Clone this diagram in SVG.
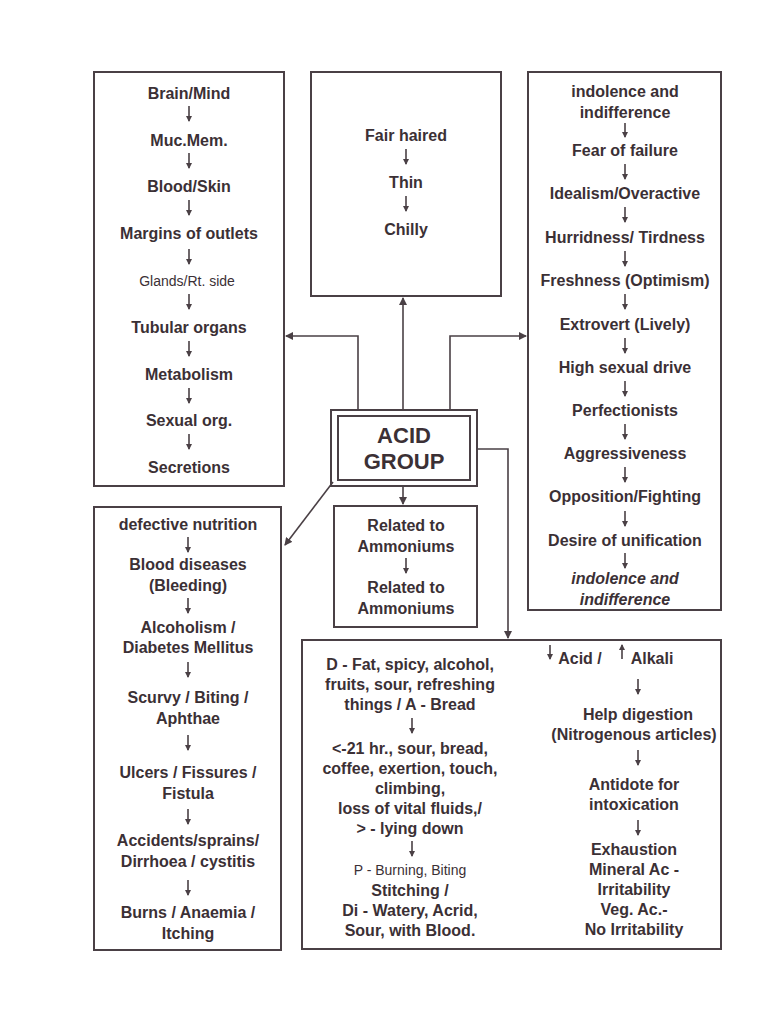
<svg xmlns="http://www.w3.org/2000/svg" width="768" height="1024" viewBox="0 0 768 1024">
<style>
text{font-family:"Liberation Sans",Arial,sans-serif;font-weight:bold;font-size:16px;fill:#3b3035;text-anchor:middle}
.n{font-weight:normal;font-size:14px}
.i{font-style:italic}
.big{font-size:22px}
.b{fill:none;stroke:#4a4045;stroke-width:2}
.c line,.c path,.a line{stroke:#4a4045;stroke-width:1.6;fill:none}
</style>
<defs>
<marker id="m" markerWidth="8" markerHeight="8" refX="7" refY="4" orient="auto" markerUnits="userSpaceOnUse"><path d="M0,0 L8,4 L0,8 z" fill="#4a4045"/></marker>
<marker id="s" markerWidth="6" markerHeight="6" refX="5" refY="3" orient="auto" markerUnits="userSpaceOnUse"><path d="M0,0 L6,3 L0,6 z" fill="#4a4045"/></marker>
</defs>
<rect width="768" height="1024" fill="#fff"/>
<g id="body-box">
<rect class="b" x="94" y="72" width="190" height="414"/>
<text x="189" y="99">Brain/Mind</text><text x="189" y="146">Muc.Mem.</text><text x="189" y="192">Blood/Skin</text><text x="189" y="239">Margins of outlets</text><text x="187" y="286" class="n">Glands/Rt. side</text><text x="189" y="333">Tubular organs</text><text x="189" y="380">Metabolism</text><text x="189" y="426">Sexual org.</text><text x="189" y="473">Secretions</text>
<g class="a"><line x1="189" y1="106" x2="189" y2="121" marker-end="url(#s)"/><line x1="189" y1="153" x2="189" y2="168" marker-end="url(#s)"/><line x1="189" y1="200" x2="189" y2="215" marker-end="url(#s)"/><line x1="189" y1="249" x2="189" y2="264" marker-end="url(#s)"/><line x1="189" y1="294" x2="189" y2="309" marker-end="url(#s)"/><line x1="189" y1="341" x2="189" y2="356" marker-end="url(#s)"/><line x1="189" y1="388" x2="189" y2="403" marker-end="url(#s)"/><line x1="189" y1="434" x2="189" y2="449" marker-end="url(#s)"/></g>
</g>
<g id="appearance-box">
<rect class="b" x="311" y="72" width="190" height="224"/>
<text x="406" y="141">Fair haired</text><text x="406" y="188">Thin</text><text x="406" y="235">Chilly</text>
<g class="a"><line x1="406" y1="149" x2="406" y2="164" marker-end="url(#s)"/><line x1="406" y1="196" x2="406" y2="211" marker-end="url(#s)"/></g>
</g>
<g id="mind-box">
<rect class="b" x="528" y="72" width="193" height="538"/>
<text x="625" y="97">indolence and</text><text x="625" y="118">indifference</text><text x="625" y="156">Fear of failure</text><text x="625" y="199">Idealism/Overactive</text><text x="625" y="243">Hurridness/ Tirdness</text><text x="625" y="286">Freshness (Optimism)</text><text x="625" y="330">Extrovert (Lively)</text><text x="625" y="373">High sexual drive</text><text x="625" y="416">Perfectionists</text><text x="625" y="459">Aggressiveness</text><text x="625" y="502">Opposition/Fighting</text><text x="625" y="546">Desire of unification</text><text x="625" y="584" class="i">indolence and</text><text x="625" y="605" class="i">indifference</text>
<g class="a"><line x1="625" y1="123" x2="625" y2="137" marker-end="url(#s)"/><line x1="625" y1="164" x2="625" y2="179" marker-end="url(#s)"/><line x1="625" y1="207" x2="625" y2="222" marker-end="url(#s)"/><line x1="625" y1="251" x2="625" y2="266" marker-end="url(#s)"/><line x1="625" y1="294" x2="625" y2="309" marker-end="url(#s)"/><line x1="625" y1="338" x2="625" y2="353" marker-end="url(#s)"/><line x1="625" y1="381" x2="625" y2="396" marker-end="url(#s)"/><line x1="625" y1="424" x2="625" y2="439" marker-end="url(#s)"/><line x1="625" y1="467" x2="625" y2="482" marker-end="url(#s)"/><line x1="625" y1="511" x2="625" y2="526" marker-end="url(#s)"/><line x1="625" y1="553" x2="625" y2="568" marker-end="url(#s)"/></g>
</g>
<g id="acid-group">
<rect class="b" x="331" y="410" width="146" height="76"/>
<rect class="b" x="338" y="416" width="132" height="64"/>
<text x="404" y="443" class="big">ACID</text><text x="404" y="469" class="big">GROUP</text>
</g>
<g id="ammonium-box">
<rect class="b" x="334" y="506" width="143" height="121"/>
<text x="406" y="531">Related to</text><text x="406" y="552">Ammoniums</text><text x="406" y="593">Related to</text><text x="406" y="614">Ammoniums</text>
<g class="a"><line x1="406" y1="558" x2="406" y2="573" marker-end="url(#s)"/></g>
</g>
<g id="disease-box">
<rect class="b" x="94" y="507" width="187" height="443"/>
<text x="188" y="530">defective nutrition</text><text x="188" y="570">Blood diseases</text><text x="188" y="591">(Bleeding)</text><text x="188" y="633">Alcoholism /</text><text x="188" y="653">Diabetes Mellitus</text><text x="188" y="703">Scurvy / Biting /</text><text x="188" y="724">Aphthae</text><text x="188" y="778">Ulcers / Fissures /</text><text x="188" y="799">Fistula</text><text x="188" y="846">Accidents/sprains/</text><text x="188" y="867">Dirrhoea / cystitis</text><text x="188" y="918">Burns / Anaemia /</text><text x="188" y="939">Itching</text>
<g class="a"><line x1="188" y1="537" x2="188" y2="552" marker-end="url(#s)"/><line x1="188" y1="598" x2="188" y2="613" marker-end="url(#s)"/><line x1="188" y1="662" x2="188" y2="677" marker-end="url(#s)"/><line x1="188" y1="735" x2="188" y2="750" marker-end="url(#s)"/><line x1="188" y1="809" x2="188" y2="824" marker-end="url(#s)"/><line x1="188" y1="880" x2="188" y2="895" marker-end="url(#s)"/></g>
</g>
<g id="modality-box">
<rect class="b" x="302" y="640" width="419" height="309"/>
<text x="410" y="670">D - Fat, spicy, alcohol,</text><text x="410" y="690">fruits, sour, refreshing</text><text x="410" y="710">things / A - Bread</text><text x="410" y="754">&lt;-21 hr., sour, bread,</text><text x="410" y="774">coffee, exertion, touch,</text><text x="410" y="794">climbing,</text><text x="410" y="814">loss of vital fluids,/</text><text x="410" y="834">&gt; - lying down</text><text x="410" y="875" class="n">P - Burning, Biting</text><text x="410" y="896">Stitching /</text><text x="410" y="916">Di - Watery, Acrid,</text><text x="410" y="936">Sour, with Blood.</text>
<text x="580" y="664">Acid /</text><text x="652" y="664">Alkali</text><text x="638" y="720">Help digestion</text><text x="634" y="740">(Nitrogenous articles)</text><text x="634" y="790">Antidote for</text><text x="634" y="810">intoxication</text><text x="634" y="855">Exhaustion</text><text x="634" y="875">Mineral Ac -</text><text x="634" y="895">Irritability</text><text x="634" y="915">Veg. Ac.-</text><text x="634" y="935">No Irritability</text>
<g class="a"><line x1="412" y1="718" x2="412" y2="733" marker-end="url(#s)"/><line x1="412" y1="841" x2="412" y2="856" marker-end="url(#s)"/><line x1="550" y1="645" x2="550" y2="659" marker-end="url(#s)"/><line x1="622" y1="659" x2="622" y2="645" marker-end="url(#s)"/><line x1="638" y1="679" x2="638" y2="694" marker-end="url(#s)"/><line x1="638" y1="750" x2="638" y2="765" marker-end="url(#s)"/><line x1="638" y1="820" x2="638" y2="835" marker-end="url(#s)"/></g>
</g>
<g id="connectors" class="c">
<line x1="403" y1="410" x2="403" y2="298" marker-end="url(#m)"/>
<path d="M358,410 V336 H286" marker-end="url(#m)"/>
<path d="M450,410 V336 H526" marker-end="url(#m)"/>
<line x1="403" y1="486" x2="403" y2="504" marker-end="url(#m)"/>
<line x1="333" y1="482" x2="285" y2="545" marker-end="url(#m)"/>
<path d="M477,449 H508 V638" marker-end="url(#m)"/>
</g>
</svg>
